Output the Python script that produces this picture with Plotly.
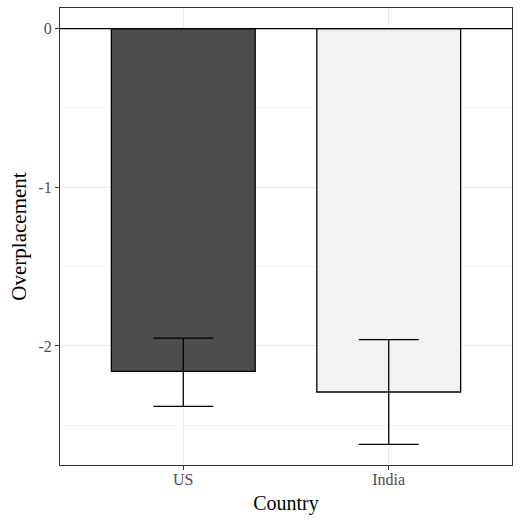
import plotly.graph_objects as go

countries = ["US", "India"]
overplacement = [-2.16, -2.29]
ci_upper = [-1.95, -1.96]
ci_lower = [-2.38, -2.62]
bar_colors = ["#4D4D4D", "#F2F2F2"]

err_plus = [u - m for u, m in zip(ci_upper, overplacement)]
err_minus = [m - l for m, l in zip(overplacement, ci_lower)]

fig = go.Figure()
fig.add_trace(go.Bar(
    x=countries, y=overplacement, width=0.7,
    marker=dict(color=bar_colors, line=dict(color="black", width=1.3)),
    error_y=dict(type="data", symmetric=False, array=err_plus, arrayminus=err_minus,
                 color="black", thickness=1.3, width=30),
    showlegend=False,
))
fig.add_hline(y=0, line=dict(color="black", width=1.3))

grid = "#EBEBEB"
fig.update_layout(
    width=520, height=520,
    margin=dict(l=60, r=8, t=8, b=55, autoexpand=False),
    paper_bgcolor="white", plot_bgcolor="white",
    font=dict(family="Liberation Serif", color="black"),
    xaxis=dict(
        title=dict(text="Country", font=dict(size=20), standoff=8),
        range=[-0.6, 1.6], showgrid=True, gridcolor=grid, gridwidth=1,
        ticks="outside", ticklen=4, tickcolor="#333333",
        tickfont=dict(size=16, color="#4D4D4D"), ticklabelstandoff=-4,
        showline=True, linecolor="#333333", mirror=True, zeroline=False,
    ),
    yaxis=dict(
        title=dict(text="Overplacement", font=dict(size=21), standoff=6),
        range=[-2.75, 0.13], tickvals=[0, -1, -2], ticktext=["0", "-1", "-2"],
        showgrid=True, gridcolor=grid, gridwidth=1,
        minor=dict(tickvals=[-0.5, -1.5, -2.5], showgrid=True, gridcolor="#F4F4F4", gridwidth=1),
        ticks="outside", ticklen=4, tickcolor="#333333",
        tickfont=dict(size=16, color="#4D4D4D"),
        showline=True, linecolor="#333333", mirror=True, zeroline=False,
    ),
)

fig.write_html("out.html", config={"displayModeBar": False},
               post_script="document.body.style.margin = '0';")
